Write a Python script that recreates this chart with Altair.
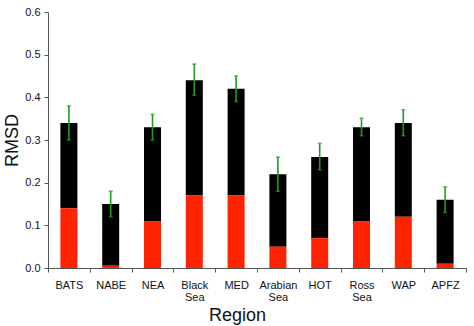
import altair as alt
import pandas as pd

regions = ["BATS", "NABE", "NEA", "Black Sea", "MED", "Arabian Sea", "HOT", "Ross Sea", "WAP", "APFZ"]
total = [0.34, 0.15, 0.33, 0.44, 0.42, 0.22, 0.26, 0.33, 0.34, 0.16]
red_part = [0.14, 0.005, 0.11, 0.17, 0.17, 0.05, 0.07, 0.11, 0.12, 0.01]
err_low = [0.30, 0.12, 0.30, 0.405, 0.39, 0.18, 0.23, 0.31, 0.31, 0.13]
err_high = [0.38, 0.18, 0.36, 0.478, 0.45, 0.26, 0.292, 0.351, 0.371, 0.19]

df = pd.DataFrame({
    "region": regions,
    "total": total,
    "red": red_part,
    "zero": [0.0] * len(regions),
    "lo": err_low,
    "hi": err_high,
})

FONT = "Liberation Sans"

x = alt.X("region:N", sort=regions,
          scale=alt.Scale(paddingInner=0, paddingOuter=0),
          axis=alt.Axis(title="Region", labelAngle=0,
                        labelExpr="split(datum.label, ' ')",
                        tickBand="extent", tickSize=4, tickColor="#555",
                        domainColor="#555", labelFont=FONT, labelFontSize=11,
                        labelColor="#111", labelPadding=7, labelLineHeight=12.5,
                        titleFont=FONT, titleFontSize=18, titleFontWeight="normal",
                        titleColor="#111", titleX=189, titleY=52,
                        titleBaseline="alphabetic", titleAlign="center"))

yscale = alt.Scale(domain=[0, 0.6], nice=False, zero=True)
yaxis = alt.Axis(title="RMSD", values=[0, 0.1, 0.2, 0.3, 0.4, 0.5, 0.6], format=".1f",
                 grid=False, tickSize=4, tickColor="#555", domainColor="#555",
                 labelFont=FONT, labelFontSize=11, labelColor="#111", labelPadding=4,
                 titleFont=FONT, titleFontSize=18, titleFontWeight="normal",
                 titleColor="#111", titlePadding=3)

base = alt.Chart(df)

black = base.mark_bar(color="#000000", size=17).encode(
    x=x, y=alt.Y("red:Q", scale=yscale, axis=yaxis), y2="total:Q")
red = base.mark_bar(color="#ff2200", size=17).encode(
    x=x, y=alt.Y("zero:Q", scale=yscale), y2="red:Q")
err = base.mark_rule(color="#1e9e1e", strokeWidth=1.6).encode(
    x=x, y=alt.Y("lo:Q", scale=yscale), y2="hi:Q")
cap_lo = base.mark_tick(color="#1e9e1e", size=4, thickness=1.5).encode(
    x=x, y=alt.Y("lo:Q", scale=yscale))
cap_hi = base.mark_tick(color="#1e9e1e", size=4, thickness=1.5).encode(
    x=x, y=alt.Y("hi:Q", scale=yscale))

chart = alt.layer(black, red, err, cap_lo, cap_hi).properties(
    width=418, height=256,
    autosize=alt.AutoSizeParams(type="none"),
    padding={"left": 48, "top": 12, "right": 8, "bottom": 58},
    background="white",
).configure_view(stroke=None)

chart.save("out.html", embed_options={"renderer": "svg", "actions": False})
